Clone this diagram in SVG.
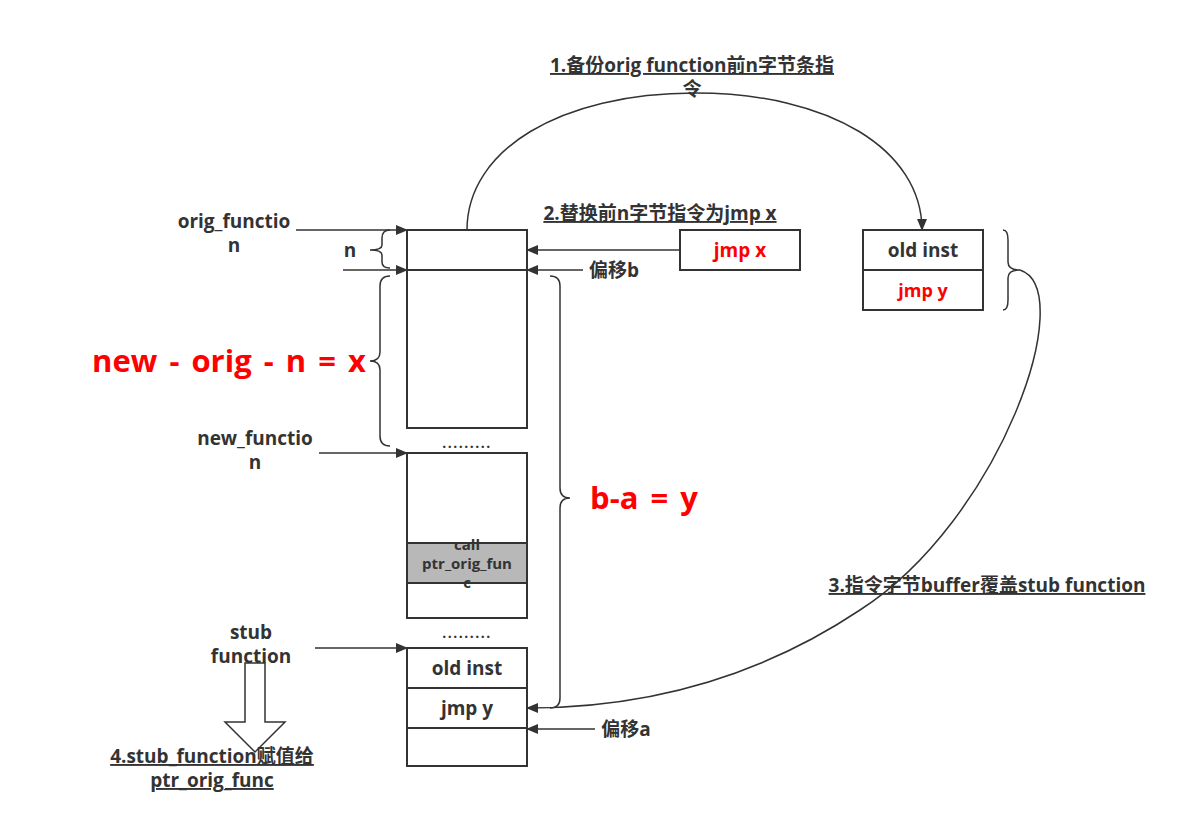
<svg xmlns="http://www.w3.org/2000/svg" width="1184" height="824" viewBox="0 0 1184 824">
<defs>
<marker id="ah" markerWidth="12" markerHeight="10" refX="11" refY="5" orient="auto" markerUnits="userSpaceOnUse"><path d="M0,0 L12,5 L0,10 Z" fill="#333"/></marker>
<style>
text{font-family:"Open Sans","Noto Sans CJK SC",sans-serif;font-weight:bold;fill:#333;}
.b{fill:#fff;stroke:#333;stroke-width:2;}
.l{fill:none;stroke:#333;stroke-width:1.5;}
.a{fill:none;stroke:#333;stroke-width:1.5;marker-end:url(#ah);}
.s{font-size:19px;}
.r{fill:#ff0000;}
.u{text-decoration:underline;}
.d{font-size:14px;letter-spacing:1.5px;}
</style>
</defs>
<rect width="1184" height="824" fill="#fff"/>
<g id="orig_box"><rect class="b" x="407" y="230" width="120" height="198"/><line class="l" x1="407" y1="270" x2="527" y2="270" style="stroke-width:2"/></g>
<g id="new_box"><rect class="b" x="407" y="453" width="120" height="165"/><rect x="407" y="543" width="120" height="40" fill="#b8b8b8" stroke="#333" stroke-width="2"/>
<text x="467" y="550" font-size="15" text-anchor="middle">call</text><text x="467" y="569" font-size="15" text-anchor="middle">ptr_orig_fun</text><text x="467" y="588" font-size="15" text-anchor="middle">c</text></g>
<g id="stub_box"><rect class="b" x="407" y="648" width="120" height="118"/><line class="l" x1="407" y1="688" x2="527" y2="688" style="stroke-width:2"/><line class="l" x1="407" y1="728" x2="527" y2="728" style="stroke-width:2"/>
<text x="467" y="675" class="s" text-anchor="middle">old inst</text><text x="467" y="715" class="s" text-anchor="middle">jmp y</text></g>
<g id="jmpx"><rect class="b" x="680" y="230" width="120" height="40"/><text x="740" y="257" class="s r" text-anchor="middle">jmp x</text></g>
<g id="backup"><rect class="b" x="863" y="230" width="120" height="80"/><line class="l" x1="863" y1="270" x2="983" y2="270" style="stroke-width:2"/>
<text x="923" y="257" class="s" text-anchor="middle">old inst</text><text x="923" y="297" font-size="18" class="r" text-anchor="middle">jmp y</text></g>
<g id="connectors">
<path class="a" d="M467,230 C467,150 560,93 695,93 C830,93 922,150 922,230"/>
<path class="a" d="M1020,270 C1080,290 1000,520 860,610 C740,690 620,708 527,708"/>
<path class="a" d="M296,230 L407,230"/>
<path class="a" d="M343,270 L407,270"/>
<path class="a" d="M319,453 L407,453"/>
<path class="a" d="M315,648 L407,648"/>
<path class="a" d="M680,250 L527,250"/>
<path class="a" d="M583,270 L527,270"/>
<path class="a" d="M595,729 L527,729"/>
<path class="l" d="M390,230 Q382,230 382,238 L382,245 Q382,250 370,250 Q382,250 382,255 L382,262 Q382,268 390,268"/>
<path class="l" d="M390,276 Q380,276 380,286 L380,352 Q380,361 370,361 Q380,361 380,370 L380,436 Q380,446 390,446"/>
<path class="l" d="M550,276 Q560,276 560,286 L560,488 Q560,498 570,498 Q560,498 560,508 L560,698 Q560,708 550,708"/>
<path class="l" d="M1003,230 Q1008,230 1008,240 L1008,262 Q1008,270 1020,270 Q1008,270 1008,278 L1008,300 Q1008,310 1003,310"/>
<path d="M245,663 L265,663 L265,722 L285,722 L255,752 L225,722 L245,722 Z" fill="#fff" stroke="#333" stroke-width="1.5"/>
</g>
<g id="labels">
<text x="692" y="72" class="s u" text-anchor="middle">1.备份orig function前n字节条指</text>
<text x="692" y="96" class="s" text-anchor="middle">令</text>
<text x="660" y="220" class="s u" text-anchor="middle">2.替换前n字节指令为jmp x</text>
<text x="987" y="592" class="s u" text-anchor="middle">3.指令字节buffer覆盖stub function</text>
<text x="212" y="763" class="s u" text-anchor="middle">4.stub_function赋值给</text>
<text x="212" y="787" class="s u" text-anchor="middle">ptr_orig_func</text>
<text x="234" y="228" class="s" text-anchor="middle">orig_functio</text><text x="234" y="252" class="s" text-anchor="middle">n</text>
<text x="350" y="257" class="s" text-anchor="middle">n</text>
<text x="255" y="445" class="s" text-anchor="middle">new_functio</text><text x="255" y="469" class="s" text-anchor="middle">n</text>
<text x="251" y="639" class="s" text-anchor="middle">stub</text><text x="251" y="663" class="s" text-anchor="middle">function</text>
<text x="614" y="277" class="s" text-anchor="middle">偏移b</text>
<text x="626" y="736" class="s" text-anchor="middle">偏移a</text>
<text x="229" y="372" font-size="31" class="r" text-anchor="middle" style="word-spacing:4px">new - orig - n = x</text>
<text x="644" y="509" font-size="31" class="r" text-anchor="middle" style="word-spacing:4px">b-a = y</text>
<text x="467" y="448" class="d" text-anchor="middle">.........</text>
<text x="467" y="638" class="d" text-anchor="middle">.........</text>
</g>
</svg>
